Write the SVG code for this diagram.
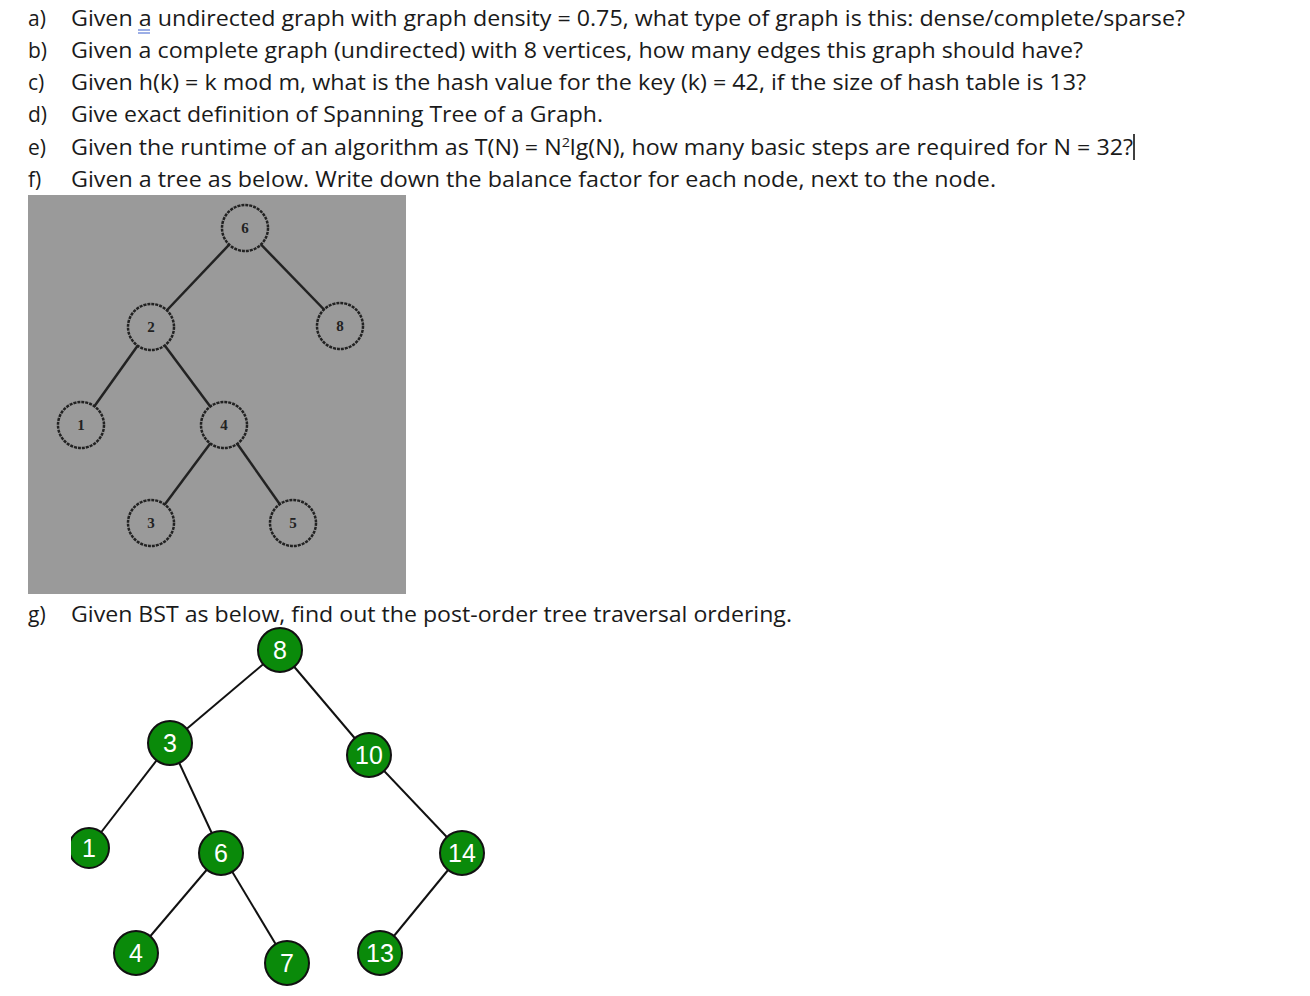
<svg xmlns="http://www.w3.org/2000/svg" width="1310" height="996" viewBox="0 0 1310 996">
<style>
.q{font-family:"Open Sans","Liberation Sans",sans-serif;font-size:21px;fill:#1a1a1a}
.gn circle{fill:#9a9a9a;stroke:#222;stroke-width:2.5;stroke-dasharray:3 1}
.gn text{font-family:"Liberation Serif",serif;font-weight:bold;font-size:15px;fill:#222;text-anchor:middle}
.bn circle{fill:#0a8a0a;stroke:#111;stroke-width:2}
.bn text{font-family:"Liberation Sans",Arial,sans-serif;font-size:25px;fill:#fff;text-anchor:middle}
.e line{stroke:#111;stroke-width:2}
.ge line{stroke:#222;stroke-width:2.5}
</style>
<rect width="1310" height="996" fill="#fff"/>
<g id="questions">
<text class="q" x="28" y="26">a)</text><text class="q" x="71" y="26" textLength="1114" lengthAdjust="spacingAndGlyphs">Given a undirected graph with graph density = 0.75, what type of graph is this: dense/complete/sparse?</text>
<line x1="138" y1="30" x2="150" y2="30" stroke="#3a5fcd" stroke-width="1"/><line x1="138" y1="33" x2="150" y2="33" stroke="#3a5fcd" stroke-width="1"/>
<text class="q" x="28" y="58">b)</text><text class="q" x="71" y="58" textLength="1012" lengthAdjust="spacingAndGlyphs">Given a complete graph (undirected) with 8 vertices, how many edges this graph should have?</text>
<text class="q" x="28" y="90">c)</text><text class="q" x="71" y="90" textLength="1015" lengthAdjust="spacingAndGlyphs">Given h(k) = k mod m, what is the hash value for the key (k) = 42, if the size of hash table is 13?</text>
<text class="q" x="28" y="122">d)</text><text class="q" x="71" y="122" textLength="532" lengthAdjust="spacingAndGlyphs">Give exact definition of Spanning Tree of a Graph.</text>
<text class="q" x="28" y="155">e)</text><text class="q" x="71" y="155" textLength="1062" lengthAdjust="spacingAndGlyphs">Given the runtime of an algorithm as T(N) = N<tspan font-size="13" dy="-8">2</tspan><tspan dy="8">lg(N), how many basic steps are required for N = 32?</tspan></text>
<line x1="1134" y1="134" x2="1134" y2="160" stroke="#000" stroke-width="1.5"/>
<text class="q" x="28" y="187">f)</text><text class="q" x="71" y="187" textLength="925" lengthAdjust="spacingAndGlyphs">Given a tree as below. Write down the balance factor for each node, next to the node.</text>
<text class="q" x="28" y="622">g)</text><text class="q" x="71" y="622" textLength="721" lengthAdjust="spacingAndGlyphs">Given BST as below, find out the post-order tree traversal ordering.</text>
</g>
<rect x="28" y="195" width="378" height="399" fill="#9a9a9a"/>
<g id="tree1-edges" class="ge">
<line x1="245" y1="228" x2="151" y2="327"/><line x1="245" y1="228" x2="340" y2="326"/>
<line x1="151" y1="327" x2="81" y2="425"/><line x1="151" y1="327" x2="224" y2="425"/>
<line x1="224" y1="425" x2="151" y2="523"/><line x1="224" y1="425" x2="293" y2="523"/>
</g>
<g id="t1-6" class="gn"><circle cx="245" cy="228" r="23"/><text x="245" y="233">6</text></g>
<g id="t1-2" class="gn"><circle cx="151" cy="327" r="23"/><text x="151" y="332">2</text></g>
<g id="t1-8" class="gn"><circle cx="340" cy="326" r="23"/><text x="340" y="331">8</text></g>
<g id="t1-1" class="gn"><circle cx="81" cy="425" r="23"/><text x="81" y="430">1</text></g>
<g id="t1-4" class="gn"><circle cx="224" cy="425" r="23"/><text x="224" y="430">4</text></g>
<g id="t1-3" class="gn"><circle cx="151" cy="523" r="23"/><text x="151" y="528">3</text></g>
<g id="t1-5" class="gn"><circle cx="293" cy="523" r="23"/><text x="293" y="528">5</text></g>
<g id="tree2-edges" class="e">
<line x1="280" y1="650" x2="170" y2="743"/><line x1="280" y1="650" x2="369" y2="755"/>
<line x1="170" y1="743" x2="89" y2="848"/><line x1="170" y1="743" x2="221" y2="853"/>
<line x1="369" y1="755" x2="462" y2="853"/>
<line x1="221" y1="853" x2="136" y2="953"/><line x1="221" y1="853" x2="287" y2="963"/>
<line x1="462" y1="853" x2="380" y2="953"/>
</g>
<clipPath id="c"><rect x="71" y="0" width="1239" height="996"/></clipPath>
<g id="t2-8" class="bn"><circle cx="280" cy="650" r="22"/><text x="280" y="659">8</text></g>
<g id="t2-3" class="bn"><circle cx="170" cy="743" r="22"/><text x="170" y="752">3</text></g>
<g id="t2-10" class="bn"><circle cx="369" cy="755" r="22"/><text x="369" y="764">10</text></g>
<g id="t2-1" class="bn" clip-path="url(#c)"><circle cx="89" cy="848" r="20"/><text x="89" y="857">1</text></g>
<g id="t2-6" class="bn"><circle cx="221" cy="853" r="22"/><text x="221" y="862">6</text></g>
<g id="t2-14" class="bn"><circle cx="462" cy="853" r="22"/><text x="462" y="862">14</text></g>
<g id="t2-4" class="bn"><circle cx="136" cy="953" r="22"/><text x="136" y="962">4</text></g>
<g id="t2-7" class="bn"><circle cx="287" cy="963" r="22"/><text x="287" y="972">7</text></g>
<g id="t2-13" class="bn"><circle cx="380" cy="953" r="22"/><text x="380" y="962">13</text></g>
</svg>
